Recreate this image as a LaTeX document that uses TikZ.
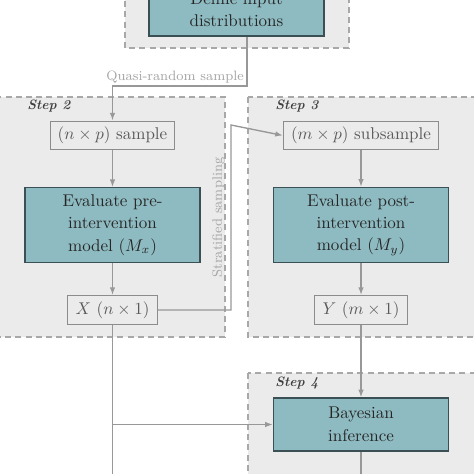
\documentclass[tikz,border=0pt]{standalone}
\usepackage{tikz}
\usetikzlibrary{calc,arrows.meta}
\usepackage{amsmath}
\definecolor{tealbox}{RGB}{142,187,193}
\definecolor{tealline}{RGB}{58,80,84}
\definecolor{stepfill}{RGB}{235,235,235}
\definecolor{stepline}{RGB}{168,168,168}
\definecolor{flowline}{RGB}{152,152,152}
\definecolor{labeltext}{RGB}{165,165,165}

\begin{document}
\begin{tikzpicture}[x=0.5882pt,y=-0.5882pt,
					stepregion/.style={fill=stepfill,draw=stepline,line width=0.6pt,dash pattern=on 3.5pt off 2.5pt},
					steptitle/.style={anchor=west,inner sep=0pt,font=\footnotesize\bfseries\itshape,text=black!75},
					modelbox/.style={draw=tealline,fill=tealbox,line width=0.7pt,text=black!85,align=center,minimum width=103pt,inner sep=4pt,font=\fontsize{10}{13.2}\selectfont},
					databox/.style={draw=black!45,fill=stepfill,line width=0.6pt,text=black!65,inner xsep=4.5pt,minimum height=17pt},
					flow/.style={draw=flowline,line width=0.8pt},
					flowarrow/.style={flow,-{Latex[length=4.5pt,width=3.2pt]}},
					flowlabel/.style={font=\footnotesize,text=labeltext}]
					\useasboundingbox (0,0) rectangle (474,474);
					%STEP REGIONS
					\draw[stepregion] (125,-60) rectangle (349,48);
					\draw[stepregion] (-20,97) rectangle (225,337);
					\draw[stepregion] (248,97) rectangle (500,337);
					\draw[stepregion] (248,373) rectangle (500,500);
					\node[steptitle] (step2) at (27,106) {Step 2};
					\node[steptitle] (step3) at (275,106) {Step 3};
					\node[steptitle] (step4) at (275,383) {Step 4};
					%NODES
					\node[modelbox,minimum height=31.2pt] (define) at (236.5,9.5) {Define input\\distributions};
					\node[databox] (sample) at (112.5,135.5) {$(n\times p)$ sample};
					\node[modelbox,minimum height=41.2pt] (pre) at (112.5,225) {Evaluate pre-\\intervention\\model ($M_x$)};
					\node[databox] (X) at (112.5,310) {$X$ $(n\times 1)$};
					\node[databox] (subsample) at (361,135.5) {$(m\times p)$ subsample};
					\node[modelbox,minimum height=41.2pt] (post) at (361,225) {Evaluate post-\\intervention\\model ($M_y$)};
					\node[databox] (Y) at (361,310) {$Y$ $(m\times 1)$};
					\node[modelbox,minimum height=31.2pt] (bayes) at (361,424.5) {Bayesian\\inference};
					%CONNECTORS
					\coordinate (q) at (247,86);
					\coordinate (s) at (231,125);
					\coordinate (xend) at (112.5,500);
					\coordinate (bend) at (361,500);
					\draw[flowarrow] (define.south -| q) -- (q) node[flowlabel,anchor=south east,inner sep=1.5pt]{Quasi-random sample} -| (sample.north);
					\draw[flowarrow] (sample) -- (pre);
					\draw[flowarrow] (pre) -- (X);
					\draw[flowarrow] (X.east) -- (X.east -| s) -- node[flowlabel,sloped,above]{Stratified sampling} (s) -- (subsample.west);
					\draw[flowarrow] (subsample) -- (post);
					\draw[flowarrow] (post) -- (Y);
					\draw[flowarrow] (Y) -- (bayes);
					\draw[flow] (X) -- (xend);
					\draw[flowarrow] (X.south |- bayes.west) -- (bayes.west);
					\draw[flow] (bayes) -- (bend);
\end{tikzpicture}
\end{document}
